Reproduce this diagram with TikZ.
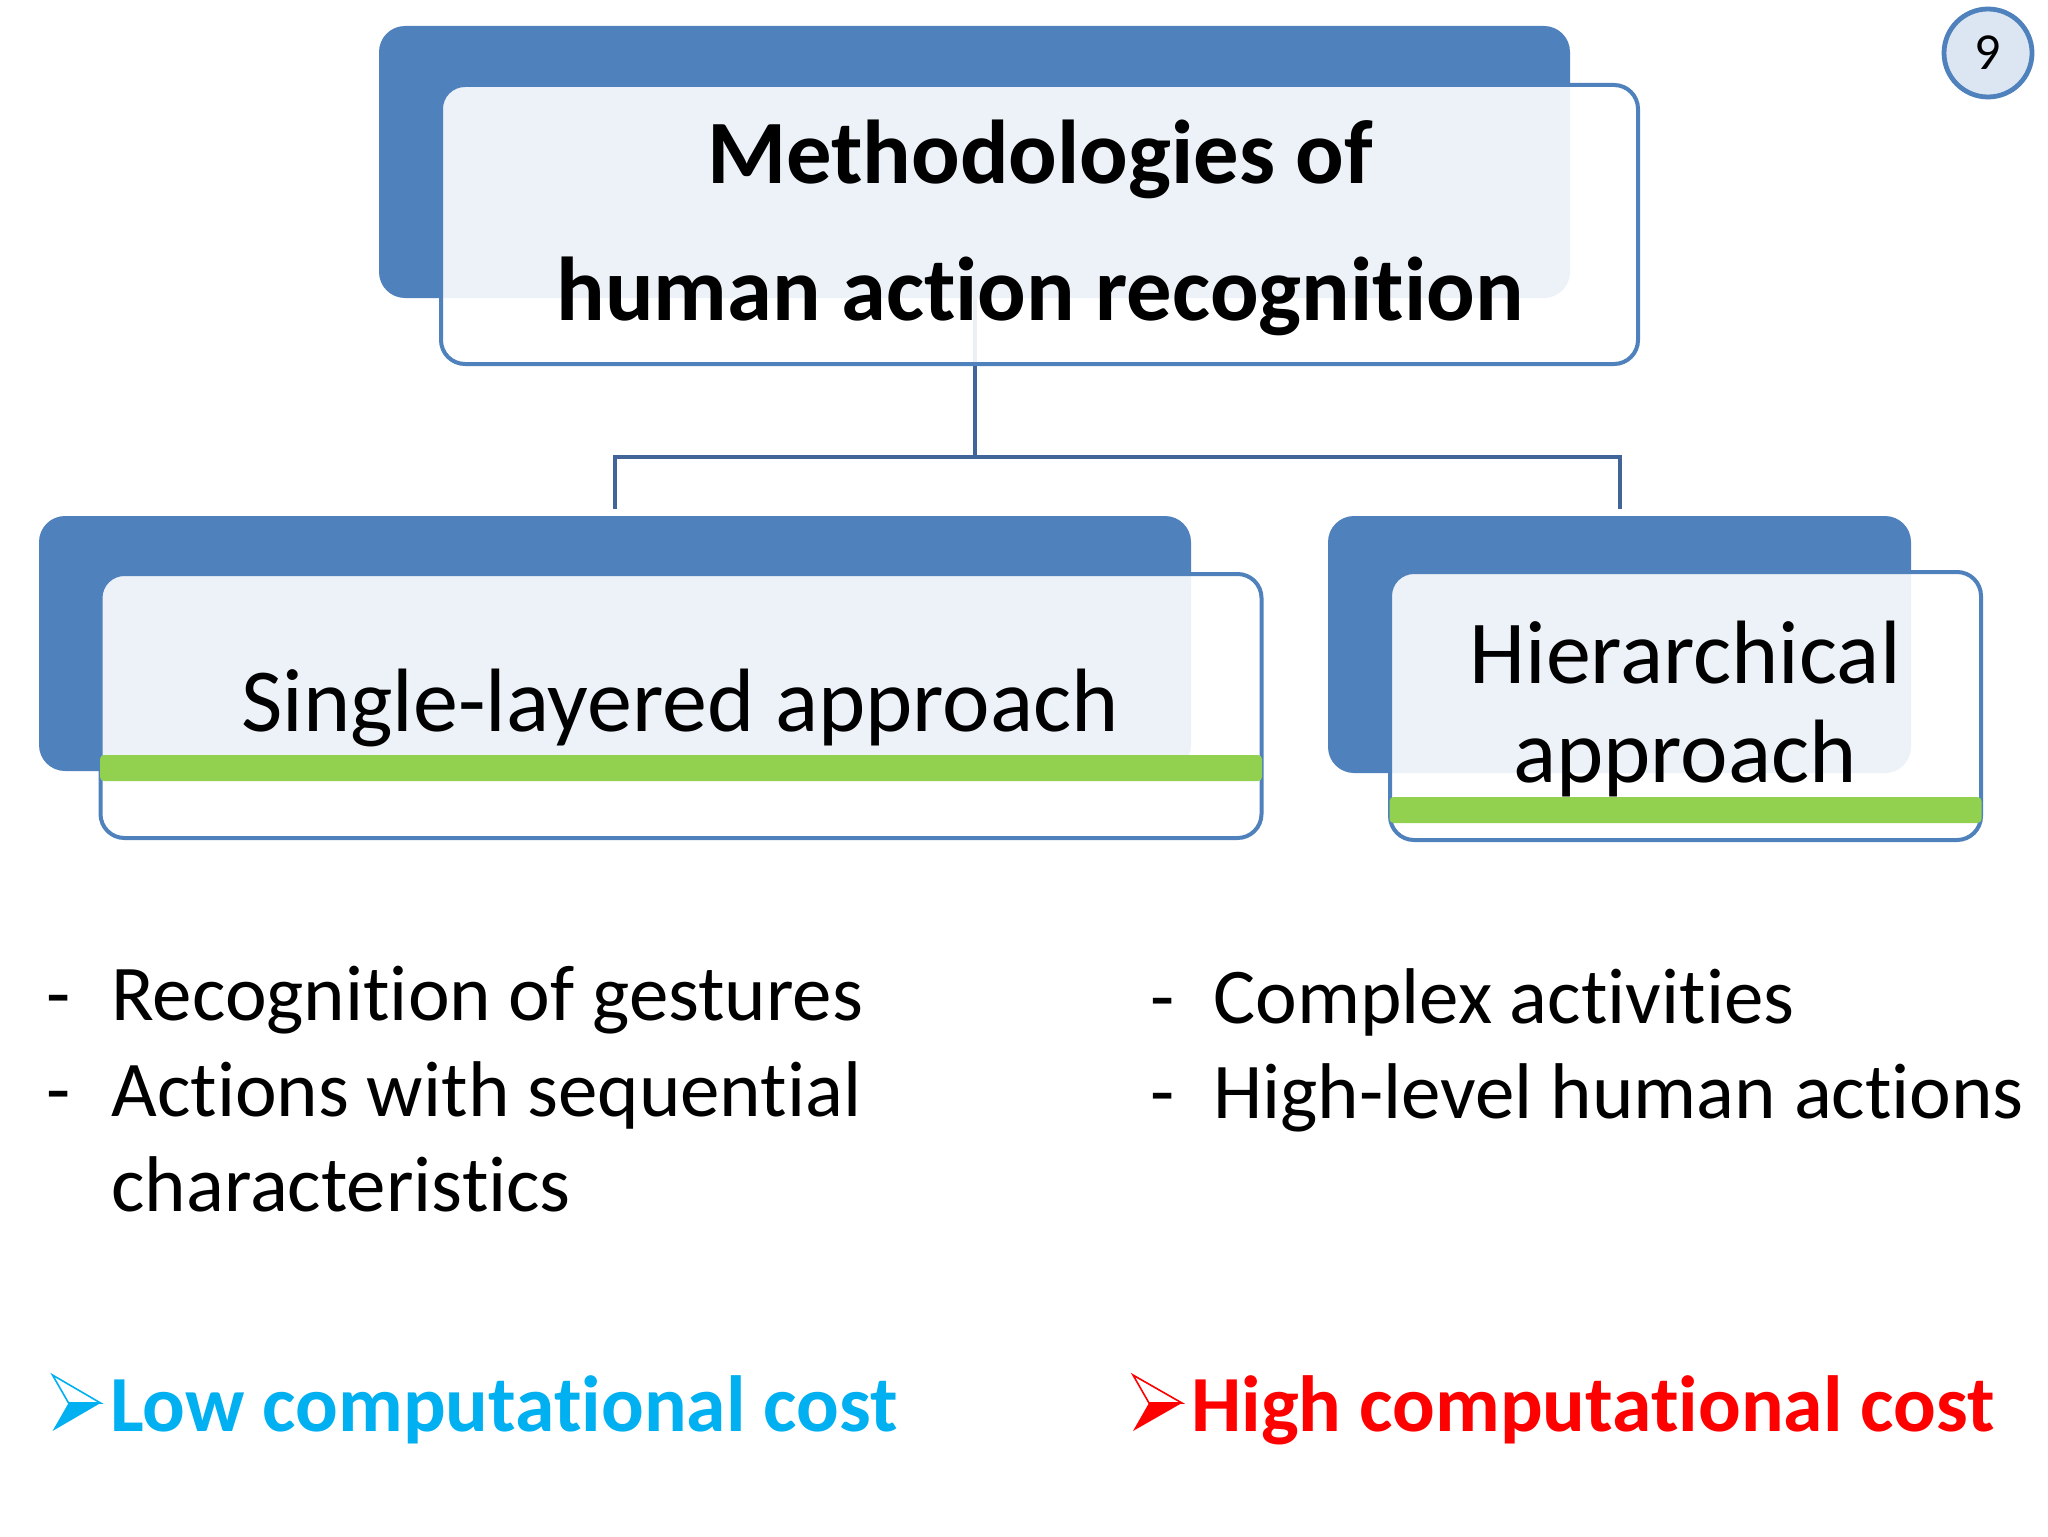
\documentclass[tikz,border=0pt]{standalone}
\usepackage{fontspec}
\setmainfont{Carlito}[Ligatures=NoCommon]
\definecolor{boxblue}{RGB}{79,129,189}
\definecolor{connblue}{RGB}{65,101,152}
\definecolor{bargreen}{RGB}{146,208,80}
\definecolor{circfill}{RGB}{220,230,242}
\definecolor{lowcyan}{RGB}{0,176,240}
\definecolor{highred}{RGB}{255,0,0}
\tikzset{
  x=0.5pt, y=-0.5pt,
  backbox/.style={fill=boxblue, draw=none, rounded corners=13pt, inner sep=0pt},
  frontbox/.style={fill=white, fill opacity=0.9, draw=boxblue, draw opacity=1, line width=2pt, rounded corners=12pt, inner sep=0pt},
  greenbar/.style={fill=bargreen, draw=none, rounded corners=2pt, inner sep=0pt},
  conn/.style={draw=connblue, line width=2pt},
  titletext/.style={font=\fontsize{45.3}{54}\selectfont\bfseries, inner sep=0pt, anchor=base},
  boxtext/.style={font=\fontsize{45}{54}\selectfont, inner sep=0pt, anchor=base},
  bullettext/.style={font=\fontsize{39.5}{47}\selectfont, inner sep=0pt, anchor=base west},
  costtext/.style={font=\fontsize{39.8}{47}\selectfont\bfseries, inner sep=0pt, anchor=base west},
}
\begin{document}
\begin{tikzpicture}
\useasboundingbox (0,0) rectangle (2048,1536);
\fill[white] (0,0) rectangle (2048,1536);

% back boxes
\node[backbox, minimum width=595.5pt, minimum height=136pt] (topback) at (974.5,162) {};
\node[backbox, minimum width=576pt, minimum height=127.5pt] (leftback) at (615,643.5) {};
\node[backbox, minimum width=291.5pt, minimum height=128.5pt] (rightback) at (1619.5,644.5) {};

% connectors
\coordinate (hub) at (974.5,457);
\draw[conn] (topback.south) -- (hub);
\draw[conn, shorten >=3.5pt] (hub) -| (leftback.north);
\draw[conn, shorten >=3.5pt] (hub) -| (rightback.north);

% front boxes
\node[frontbox, minimum width=598.5pt, minimum height=139.5pt] (topfront) at (1039.5,224.5) {};
\node[frontbox, minimum width=580.5pt, minimum height=132pt] (leftfront) at (681,706) {};
\node[frontbox, minimum width=295.5pt, minimum height=134pt] (rightfront) at (1685.5,706) {};

% green bars
\node[greenbar, minimum width=581pt, minimum height=13pt] (leftbar) at (681,768) {};
\node[greenbar, minimum width=296pt, minimum height=13pt] (rightbar) at (1685.5,810) {};

% box texts
\node[titletext] (title1) at (1040,183) {Methodologies of};
\node[titletext] (title2) at (1040,320) {human action recognition};
\node[boxtext] (single) at (680,731) {Single-layered approach};
\node[boxtext] (hier1) at (1685,683) {Hierarchical};
\node[boxtext] (hier2) at (1685,782) {approach};

% bullets left
\node[bullettext] (dl1) at (46,1020) {-};
\node[bullettext] (bl1) at (111,1020) {Recognition of gestures};
\node[bullettext] (dl2) at (46,1116) {-};
\node[bullettext] (bl2) at (111,1116) {Actions with sequential};
\node[bullettext] (bl3) at (111,1211) {characteristics};

% bullets right
\node[bullettext] (dr1) at (1150,1023) {-};
\node[bullettext] (br1) at (1213,1023) {Complex activities};
\node[bullettext] (dr2) at (1150,1118) {-};
\node[bullettext] (br2) at (1213,1118) {High-level human actions};

% cost lines with arrowheads
\draw[lowcyan, line width=0.8pt, line join=miter] (52.5,1375) -- (100.6,1403) -- (68.6,1403) -- cycle;
\fill[lowcyan] (68.6,1403) -- (100.6,1403) -- (52.5,1431) -- cycle;
\node[costtext, text=lowcyan] (low) at (110,1431) {Low computational cost};

\draw[highred, line width=0.8pt, line join=miter] (1133,1375) -- (1182,1403) -- (1149,1403) -- cycle;
\fill[highred] (1149,1403) -- (1182,1403) -- (1133,1431) -- cycle;
\node[costtext, text=highred] (high) at (1191,1431) {High computational cost};

% page number
\node[circle, draw=boxblue, line width=2.4pt, fill=circfill, minimum size=44pt, inner sep=0pt,
      font=\fontsize{26}{30}\selectfont] (pg) at (1988,53) {9};
\end{tikzpicture}
\end{document}
